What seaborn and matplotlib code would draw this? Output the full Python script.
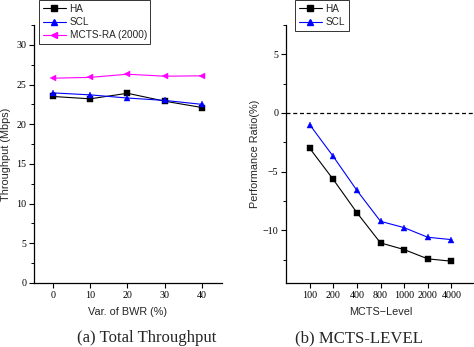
import numpy as np
import pandas as pd
import matplotlib
matplotlib.use("Agg")
import matplotlib.pyplot as plt
from matplotlib.ticker import MultipleLocator, FixedLocator
from matplotlib.lines import Line2D
import seaborn as sns

# ---- data ----
bwr_var = [0, 10, 20, 30, 40]
thr_ha = [23.5, 23.2, 23.9, 22.9, 22.1]
thr_scl = [23.95, 23.7, 23.3, 23.0, 22.5]
thr_mcts_ra = [25.8, 25.9, 26.3, 26.05, 26.1]

mcts_levels = ["100", "200", "400", "800", "1000", "2000", "4000"]
ratio_ha = [-3.0, -5.67, -8.5, -11.08, -11.65, -12.44, -12.64]
ratio_scl = [-0.99, -3.71, -6.6, -9.24, -9.78, -10.6, -10.8]

sns.set_style("ticks")
plt.rcParams["font.family"] = ["Liberation Sans", "DejaVu Sans"]

SERIF = "Liberation Serif"
TICK_FS = 7.2
LABEL_FS = 7.8
LEGEND_FS = 7.2

fig = plt.figure(figsize=(4.74, 3.47), dpi=100)
ax1 = fig.add_axes([34 / 474, 1 - 283 / 347, (222 - 34) / 474, (283 - 25) / 347])
ax2 = fig.add_axes([286 / 474, 1 - 283 / 347, (475 - 286) / 474, (283 - 25) / 347])

styles = {
    "HA": dict(color="black", marker="s"),
    "SCL": dict(color="#0000ff", marker="^"),
    "MCTS-RA (2000)": dict(color="#ff00ff", marker="<"),
}

# ---- left panel: total throughput ----
df1 = pd.DataFrame({
    "bwr": bwr_var * 3,
    "thr": thr_ha + thr_scl + thr_mcts_ra,
    "alg": ["HA"] * 5 + ["SCL"] * 5 + ["MCTS-RA (2000)"] * 5,
})
for name, sub in df1.groupby("alg", sort=False):
    st = styles[name]
    sns.lineplot(data=sub, x="bwr", y="thr", ax=ax1, color=st["color"],
                 marker=st["marker"], markersize=4.8, markeredgewidth=0.3,
                 markeredgecolor=st["color"], linewidth=0.8, legend=False,
                 sort=False)

ax1.set_xlim(-5, 45.3)
ax1.set_ylim(0, 32.5)
ax1.xaxis.set_major_locator(FixedLocator(bwr_var))
ax1.yaxis.set_major_locator(MultipleLocator(5))
ax1.yaxis.set_minor_locator(MultipleLocator(2.5))
ax1.set_xlabel("Var. of BWR (%)", fontsize=LABEL_FS, labelpad=5)
ax1.set_ylabel("Throughput (Mbps)", fontsize=LABEL_FS)
ax1.yaxis.set_label_coords((11 - 34) / 188, 0.5)

# ---- right panel: performance ratio ----
pos = np.arange(len(mcts_levels))
df2 = pd.DataFrame({
    "level": np.concatenate([pos, pos]),
    "ratio": ratio_ha + ratio_scl,
    "alg": ["HA"] * len(pos) + ["SCL"] * len(pos),
})
for name, sub in df2.groupby("alg", sort=False):
    st = styles[name]
    sns.lineplot(data=sub, x="level", y="ratio", ax=ax2, color=st["color"],
                 marker=st["marker"], markersize=4.8, markeredgewidth=0.3,
                 markeredgecolor=st["color"], linewidth=0.8, legend=False,
                 sort=False)
ax2.axhline(0, color="black", linestyle=(0, (3.2, 2.2)), linewidth=0.9, zorder=0)

ax2.set_xlim(-1, 7)
ax2.set_ylim(-14.5, 7.5)
ax2.xaxis.set_major_locator(FixedLocator(list(pos)))
ax2.set_xticklabels(mcts_levels)
ax2.yaxis.set_major_locator(MultipleLocator(5))
ax2.yaxis.set_minor_locator(MultipleLocator(2.5))
ax2.set_xlabel("MCTS\u2212Level", fontsize=LABEL_FS, labelpad=5)
ax2.set_ylabel("Performance Ratio(%)", fontsize=LABEL_FS)
ax2.yaxis.set_label_coords((260 - 286) / 189, 0.5)

for ax in (ax1, ax2):
    sns.despine(ax=ax)
    for sp in ("left", "bottom"):
        ax.spines[sp].set_linewidth(0.9)
        ax.spines[sp].set_color("black")
    ax.tick_params(which="major", direction="out", length=3.5, width=0.8,
                   labelsize=TICK_FS, pad=2, colors="black")
    ax.tick_params(which="minor", direction="out", length=2, width=0.7,
                   colors="black")
    ax.tick_params(axis="x", which="minor", bottom=False)
    for lbl in ax.get_xticklabels() + ax.get_yticklabels():
        lbl.set_fontfamily(SERIF)


def make_handles(names):
    hs = []
    for n in names:
        st = styles[n]
        hs.append(Line2D([], [], color=st["color"], marker=st["marker"],
                         markersize=4.8, linewidth=0.8,
                         markeredgecolor=st["color"], label=n))
    return hs


legend_kw = dict(loc="upper left", fontsize=LEGEND_FS, frameon=True,
                 fancybox=False, handlelength=2.3, handletextpad=0.4,
                 labelspacing=0.35, borderpad=0.35, borderaxespad=0)

leg1 = fig.legend(handles=make_handles(["HA", "SCL", "MCTS-RA (2000)"]),
                  bbox_to_anchor=(39 / 474, 1 - 0 / 347), **legend_kw)
leg2 = fig.legend(handles=make_handles(["HA", "SCL"]),
                  bbox_to_anchor=(295 / 474, 1 - 0 / 347), **legend_kw)
for leg in (leg1, leg2):
    leg.get_frame().set_edgecolor("black")
    leg.get_frame().set_linewidth(0.7)

fig.text(147 / 474, 1 - 338 / 347, "(a) Total Throughput", family=SERIF,
         fontsize=12.1, ha="center", va="center")
fig.text(359 / 474, 1 - 338 / 347, "(b) MCTS-LEVEL", family=SERIF,
         fontsize=12.1, ha="center", va="center")

fig.savefig("out.png", dpi=100, facecolor="white")
